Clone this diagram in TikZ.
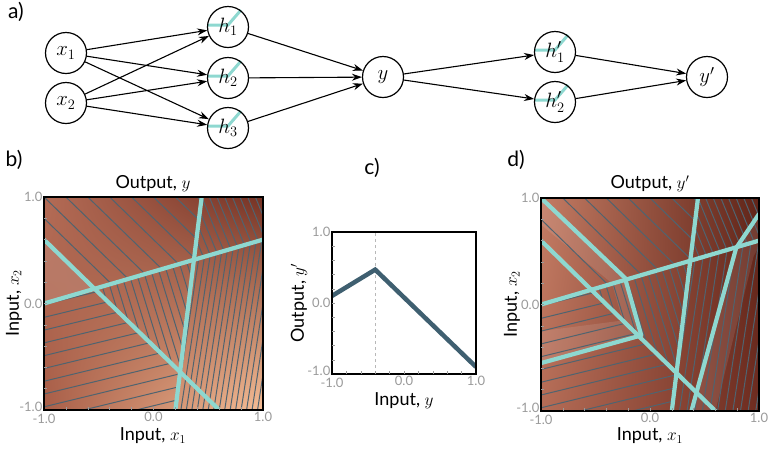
\documentclass[tikz,border=0pt]{standalone}
\usepackage{fontspec}
\setmainfont{Lato}
\usetikzlibrary{arrows.meta,shadings}
\definecolor{cy}{HTML}{8ED8D0}
\definecolor{cg}{HTML}{4F6470}
\definecolor{tk}{HTML}{9A9A9A}
\definecolor{ln}{HTML}{3F5F70}
\definecolor{bul}{RGB}{180,108,86}
\definecolor{bur}{RGB}{118,50,36}
\definecolor{bll}{RGB}{168,94,72}
\definecolor{blr}{RGB}{246,190,150}
\definecolor{dul}{RGB}{196,124,100}
\definecolor{dur}{RGB}{96,36,24}
\definecolor{dll}{RGB}{180,108,86}
\definecolor{dlr}{RGB}{110,44,32}
\begin{document}
\begin{tikzpicture}[x=1pt,y=-1pt,
  nd/.style={circle,draw,line width=1.2pt,minimum size=41pt,inner sep=0pt,font=\fontsize{20}{23}\selectfont},
  ar/.style={-{Stealth[length=10pt,width=7pt]},line width=1.1pt},
  relu/.style={cy,line width=3pt},
  hinge/.style={cy,line width=4.2pt},
  cont/.style={cg,line width=1pt},
  tick/.style={font=\fontsize{13}{15}\selectfont,text=tk,inner sep=1.5pt},
  lab/.style={font=\fontsize{18}{21}\selectfont},
  pan/.style={font=\fontsize{21}{24}\selectfont}]
\useasboundingbox (0,0) rectangle (768,448);
% ---------- a) network
\node[pan] (la) at (16,12) {a)};
\foreach \n/\x/\y in {h1/228/27,h2/228/78,h3/228/128,hp1/555/52,hp2/555/102}
  \draw[relu] (\x-20,\y-2) -- (\x,\y-2) -- (\x+13,\y-17);
\node[nd] (x1) at (66,53) {$x_1$};
\node[nd] (x2) at (66,103) {$x_2$};
\node[nd] (h1) at (228,27) {$h_1$};
\node[nd] (h2) at (228,78) {$h_2$};
\node[nd] (h3) at (228,128) {$h_3$};
\node[nd] (y) at (383,77) {$y$};
\node[nd] (hp1) at (555,52) {$h'_1$};
\node[nd] (hp2) at (555,102) {$h'_2$};
\node[nd] (yp) at (707,77) {$y'$};
\foreach \a in {x1,x2} \foreach \b in {h1,h2,h3} \draw[ar] (\a) -- (\b);
\foreach \a in {h1,h2,h3} \draw[ar] (\a) -- (y);
\draw[ar] (y) -- (hp1); \draw[ar] (y) -- (hp2);
\draw[ar] (hp1) -- (yp); \draw[ar] (hp2) -- (yp);
% ---------- b)
\node[pan] (lb) at (14,160) {b)};
\node[lab] (tb) at (153,184) {Output, $y$};
\shade[upper left=bul,upper right=bur,lower left=bll,lower right=blr]
  (44,197) rectangle (263,410);
\begin{scope}[shift={(153.5,303.5)},x={(109.5pt,0pt)},y={(0pt,106.5pt)}]
 \fill[white,opacity=0.12] (-1,0.6) -- (-0.538,0.138) -- (-1,0) -- cycle;
 \begin{scope}\clip (-1,1) -- (0.44,1) -- (0.369,0.411) -- (-0.538,0.138) -- (-1,0.6) -- cycle;
  \foreach \i in {-14,...,14} \draw[cont] (\i*0.1,\i*0.1) ++(-2,2) -- ++(4,-4); \end{scope}
 \begin{scope}\clip (-0.538,0.138) -- (0.369,0.411) -- (0.243,-0.643) -- cycle;
  \foreach \i in {-20,...,20} \draw[cont] (\i*0.07,0) ++(-0.6,2) -- ++(1.2,-4); \end{scope}
 \begin{scope}\clip (-1,0) -- (-0.538,0.138) -- (0.243,-0.643) -- (0.2,-1) -- (-1,-1) -- cycle;
  \foreach \i in {-14,...,14} \draw[cont] (0,\i*0.12) ++(-2,-0.5) -- ++(4,1); \end{scope}
 \begin{scope}\clip (0.44,1) -- (1,1) -- (1,0.6) -- (0.369,0.411) -- cycle;
  \foreach \i in {-20,...,20} \draw[cont] (\i*0.07,0) ++(-0.8,2) -- ++(1.6,-4); \end{scope}
 \begin{scope}\clip (0.369,0.411) -- (1,0.6) -- (1,-1) -- (0.6,-1) -- (0.243,-0.643) -- cycle;
  \foreach \i in {-30,...,30} \draw[cont] (\i*0.05,0) ++(0.3,2) -- ++(-0.6,-4); \end{scope}
 \begin{scope}\clip (0.243,-0.643) -- (0.6,-1) -- (0.2,-1) -- cycle;
  \foreach \i in {-30,...,30} \draw[cont] (\i*0.05,0) ++(0.3,2) -- ++(-0.6,-4); \end{scope}
 \begin{scope}\clip (-1,-1) rectangle (1,1);
 \draw[hinge] (-1,0.6) -- (0.6,-1);
 \draw[hinge] (-1,0) -- (1,0.6);
 \draw[hinge] (0.2,-1) -- (0.44,1);
 \end{scope}
 \draw[line width=1.8pt] (-1,-1) rectangle (1,1);
 \foreach \t in {-0.8,-0.6,...,0.9} {\draw[tk,line width=0.6pt] (\t,-1) -- ++(0,0.03); \draw[tk,line width=0.6pt] (-1,\t) -- ++(0.03,0);}
 \node[tick,anchor=east] (b1) at (-1,1) {1.0};
 \node[tick,anchor=east] (b2) at (-1,0) {0.0};
 \node[tick,anchor=east] (b3) at (-1,-0.97) {-1.0};
 \node[tick,anchor=north] (b4) at (-1,-1.02) {-1.0};
 \node[tick,anchor=north] (b5) at (0,-1) {0.0};
 \node[tick,anchor=north] (b6) at (1,-1) {1.0};
\end{scope}
\node[lab] (xb) at (153,436) {Input, $x_1$};
\node[lab,rotate=90] (yb) at (14,303) {Input, $x_2$};
% ---------- c)
\node[pan] (lc) at (372,168) {c)};
\begin{scope}[shift={(404,303)},x={(72pt,0pt)},y={(0pt,71pt)}]
 \draw[tk!70,dashed,line width=1pt] (-0.4,-1) -- (-0.4,1);
 \begin{scope}\clip (-1,-1) rectangle (1,1);
 \draw[ln,line width=4.5pt,line join=miter] (-1,0.1) -- (-0.4,0.47) -- (1,-0.9);
 \end{scope}
 \draw[line width=1.8pt] (-1,-1) rectangle (1,1);
 \foreach \t in {-0.8,-0.6,...,0.9} {\draw[tk,line width=0.6pt] (\t,-1) -- ++(0,0.04); \draw[tk,line width=0.6pt] (-1,\t) -- ++(0.04,0);}
 \node[tick,anchor=east] (c1) at (-1,1) {1.0};
 \node[tick,anchor=east] (c2) at (-1,0) {0.0};
 \node[tick,anchor=east] (c3) at (-1,-0.96) {-1.0};
 \node[tick,anchor=north] (c4) at (-1,-1.03) {-1.0};
 \node[tick,anchor=north] (c5) at (0,-1) {0.0};
 \node[tick,anchor=north] (c6) at (1,-1) {1.0};
\end{scope}
\node[lab] (xc) at (404,401) {Input, $y$};
\node[lab,rotate=90] (yc) at (299,303) {Output, $y'$};
% ---------- d)
\node[pan] (ld) at (516,160) {d)};
\node[lab] (td) at (650,184) {Output, $y'$};
\shade[upper left=dul,upper right=dur,lower left=dll,lower right=dlr]
  (541,198) rectangle (759,411);
\begin{scope}[shift={(650,304.5)},x={(109pt,0pt)},y={(0pt,106.5pt)}]
 \fill[white,opacity=0.1] (-1,1) -- (-0.23,0.25) -- (-0.08,-0.29) -- (-1,-0.55) -- (-1,-0.25) -- (-0.25,-0.15) -- (-0.35,0.2) -- (-1,0.75) -- cycle;
 \fill[white,opacity=0.1] (1,0.85) -- (0.79,0.53) -- (0.38,-1) -- (0.6,-1) -- (0.95,0.45) -- (1,0.55) -- cycle;
 \begin{scope}\clip (-1,1) -- (0.44,1) -- (0.369,0.411) -- (-0.538,0.138) -- (-1,0.6) -- cycle;
  \foreach \i in {-14,...,14} \draw[cont] (\i*0.1,\i*0.1) ++(-2,2) -- ++(4,-4); \end{scope}
 \begin{scope}\clip (-0.538,0.138) -- (0.369,0.411) -- (0.243,-0.643) -- cycle;
  \foreach \i in {-20,...,20} \draw[cont] (\i*0.07,0) ++(-0.6,2) -- ++(1.2,-4); \end{scope}
 \begin{scope}\clip (-1,0) -- (-0.538,0.138) -- (0.243,-0.643) -- (0.2,-1) -- (-1,-1) -- cycle;
  \foreach \i in {-14,...,14} \draw[cont] (0,\i*0.12) ++(-2,-0.5) -- ++(4,1); \end{scope}
 \begin{scope}\clip (0.44,1) -- (1,1) -- (1,0.6) -- (0.369,0.411) -- cycle;
  \foreach \i in {-20,...,20} \draw[cont] (\i*0.07,0) ++(-0.8,2) -- ++(1.6,-4); \end{scope}
 \begin{scope}\clip (0.369,0.411) -- (1,0.6) -- (1,-1) -- (0.6,-1) -- (0.243,-0.643) -- cycle;
  \foreach \i in {-20,...,20} \draw[cont] (\i*0.07,0) ++(0.3,2) -- ++(-0.6,-4); \end{scope}
 \begin{scope}\clip (0.243,-0.643) -- (0.6,-1) -- (0.2,-1) -- cycle;
  \foreach \i in {-20,...,20} \draw[cont] (\i*0.07,0) ++(0.3,2) -- ++(-0.6,-4); \end{scope}
 \begin{scope}\clip (-1,-1) rectangle (1,1);
 \draw[hinge] (-1,0.6) -- (0.6,-1);
 \draw[hinge] (-1,0) -- (1,0.6);
 \draw[hinge] (0.2,-1) -- (0.44,1);
 \draw[hinge,line join=round] (-1,1) -- (-0.23,0.25) -- (-0.08,-0.29) -- (-1,-0.55);
 \draw[hinge,line join=round] (1,0.85) -- (0.79,0.53) -- (0.38,-1);
 \end{scope}
 \draw[line width=1.8pt] (-1,-1) rectangle (1,1);
 \foreach \t in {-0.8,-0.6,...,0.9} {\draw[tk,line width=0.6pt] (\t,-1) -- ++(0,0.03); \draw[tk,line width=0.6pt] (-1,\t) -- ++(0.03,0);}
 \node[tick,anchor=east] (d1) at (-1,1) {1.0};
 \node[tick,anchor=east] (d2) at (-1,0) {0.0};
 \node[tick,anchor=east] (d3) at (-1,-0.97) {-1.0};
 \node[tick,anchor=north] (d4) at (-1,-1.02) {-1.0};
 \node[tick,anchor=north] (d5) at (0,-1) {0.0};
 \node[tick,anchor=north] (d6) at (1,-1) {1.0};
\end{scope}
\node[lab] (xd) at (650,436) {Input, $x_1$};
\node[lab,rotate=90] (yd) at (512,304) {Input, $x_2$};
\end{tikzpicture}
\end{document}
